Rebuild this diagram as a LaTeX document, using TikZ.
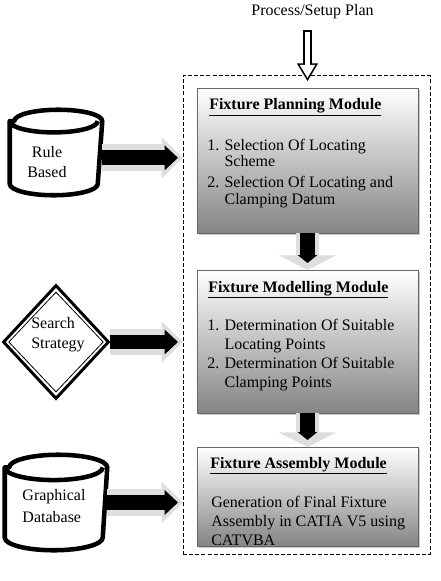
\documentclass[tikz,border=0pt]{standalone}
\usepackage{fontspec}
\setmainfont{Liberation Serif}
\usetikzlibrary{positioning,shapes.geometric,shadows,arrows.meta}

\begin{document}
\begin{tikzpicture}[x=0.75pt,y=-0.75pt,
  every node/.style={font=\fontsize{12}{14.25}\selectfont},
  module/.style={draw=black!60,line width=0.6pt,top color=white,bottom color=black!48,
    minimum width=165.75pt,inner sep=0pt,outer sep=0pt,
    drop shadow={shadow xshift=1.5pt,shadow yshift=-1.5pt,fill=black!35,opacity=0.6}},
  modtitle/.style={font=\fontsize{12}{14.25}\selectfont\bfseries,inner sep=0pt,anchor=base west},
  modlist/.style={align=left,inner sep=0pt,anchor=north west},
  dbbox/.style={rectangle,inner sep=0pt,outer sep=1.7pt},
  dbline/.style={line width=3.4pt,fill=white,line join=round},
  dbtext/.style={align=center,inner sep=0pt,font=\fontsize{12}{15}\selectfont},
  dashframe/.style={draw,dash pattern=on 3pt off 1.6pt,line width=0.75pt,
    minimum width=185.25pt,minimum height=358.5pt,inner sep=0pt,outer sep=0pt},
  sidearrow/.style={line width=11pt,-{Triangle[length=10pt,width=18pt]},shorten >=3.75pt,
    preaction={draw=black!13,line width=20pt,-{Triangle[length=16pt,width=30pt]},shorten >=0pt}},
  downarrow/.style={line width=11pt,-{Triangle[length=6pt,width=14.5pt]},shorten >=5.25pt,
    preaction={draw=black!13,line width=17pt,-{Triangle[length=11pt,width=43pt]},shorten >=0pt}}]
\useasboundingbox (0,0) rectangle (440,581);

% input and the dashed module frame
\node (setup) at (312.5,12) {Process/Setup Plan};
\node[dashframe] (frame) at (306.5,315) {};

% the three modules
\node[module,minimum height=108.75pt] (plan) at (307.5,160.5) {};
\node[module,minimum height=107.25pt] (model) at (307.5,341.5) {};
\node[module,minimum height=74.25pt] (assy) at (307.5,496.5) {};

\node[modtitle] (plantitle) at ([shift={(12,22)}]plan.north west) {\underline{Fixture Planning Module}};
\node[modlist,font=\fontsize{12}{12.3}\selectfont] (planlist) at ([shift={(10,51)}]plan.north west)
  {1. Selection Of Locating\\\hphantom{1. }Scheme\\[3.3pt]2. Selection Of Locating and\\\hphantom{2. }Clamping Datum};

\node[modtitle] (modeltitle) at ([shift={(11,22)}]model.north west) {\underline{Fixture Modelling Module}};
\node[modlist] (modellist) at ([shift={(10,49)}]model.north west)
  {1. Determination Of Suitable\\\hphantom{1. }Locating Points\\2. Determination Of Suitable\\\hphantom{2. }Clamping Points};

\node[modtitle] (assytitle) at ([shift={(13,21)}]assy.north west) {\underline{Fixture Assembly Module}};
\node[modlist] (assylist) at ([shift={(14,49)}]assy.north west)
  {Generation of Final Fixture\\Assembly in CATIA V5 using\\CATVBA};

% knowledge sources on the left
\node[dbbox,minimum width=66pt,minimum height=60.75pt] (rule) at (56,152.5) {};
\node[dbbox,minimum width=73.5pt,minimum height=68.25pt] (gdb) at (56,502.5) {};
% cylinder outlines round the two databases
\foreach \n/\rx/\ry in {rule/33pt/8.5pt,gdb/36.75pt/9.5pt} {
  \draw[dbline] ([yshift=-\ry]\n.north west) -- ([yshift=\ry]\n.south west)
    arc[start angle=180,end angle=360,x radius=\rx,y radius=\ry]
    -- ([yshift=-\ry]\n.north east)
    arc[start angle=0,end angle=180,x radius=\rx,y radius=\ry] -- cycle;
  \draw[dbline,fill=none] ([yshift=-\ry]\n.north west)
    arc[start angle=180,end angle=360,x radius=\rx,y radius=\ry];
}
\node[dbtext] (ruletext) at ([shift={(-9,10)}]rule.center) {Rule\\Based};
\node[dbtext,align=left,font=\fontsize{12}{16.5}\selectfont] (gdbtext) at ([shift={(-2,4)}]gdb.center) {Graphical\\Database};

\node[diamond,draw,line width=2.2pt,fill=white,minimum width=79.5pt,minimum height=85.5pt,inner sep=0pt] (strat) at (56,342) {};
\node[diamond,draw,line width=0.6pt,minimum width=71pt,minimum height=75pt,inner sep=0pt] (stratin) at (strat.center) {};
\node[dbtext,align=left] (strattext) at ([shift={(2,-7)}]strat.center) {Search\\Strategy};

% connectors
\draw[line width=6.75pt,-{Triangle[length=13.5pt,width=15pt]},shorten <=4.5pt,shorten >=5pt]
  (setup.south -| plan.north) -- (plan.north);
\draw[white,line width=4.35pt,-{Triangle[length=9.8pt,width=10.9pt]},shorten <=5.7pt,shorten >=7.5pt]
  (setup.south -| plan.north) -- (plan.north);

\draw[downarrow] (plan.south) -- (model.north);
\draw[downarrow] (model.south) -- (assy.north);

\coordinate (ruleout) at ([yshift=-4pt]rule.east);
\draw[sidearrow] (ruleout) -- (ruleout -| frame.west);
\draw[sidearrow] (strat.east) -- (strat.east -| frame.west);
\draw[sidearrow] (gdb.east) -- (gdb.east -| frame.west);
\end{tikzpicture}
\end{document}
